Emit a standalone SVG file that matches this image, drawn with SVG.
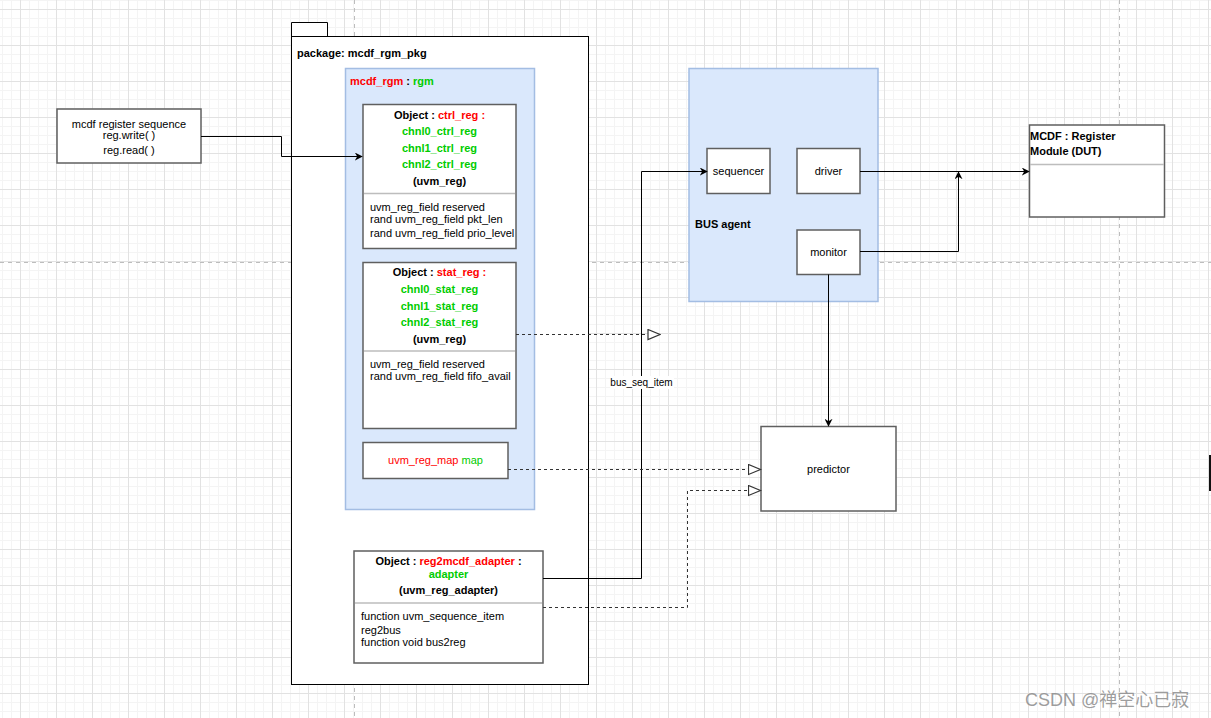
<svg xmlns="http://www.w3.org/2000/svg" width="1211" height="718" viewBox="0 0 1211 718">
<style>
text{font-family:"Liberation Sans",Arial,sans-serif;font-size:11px;fill:#000}
.b{font-weight:bold}
.c{text-anchor:middle}
.red{fill:#ff0000}
.grn{fill:#00cc00}
.box{fill:#fff;stroke:#5f5f5f;stroke-width:1.5}
.div{stroke:#bdbdbd;stroke-width:1.5}
.con{fill:none;stroke:#000;stroke-width:1}
.dash{fill:none;stroke:#333;stroke-width:1;stroke-dasharray:3 3}
.pg{stroke:#bdbdbd;stroke-width:1;stroke-dasharray:4 4}
</style>
<defs>
<pattern id="grid" x="20" y="9" width="36" height="36" patternUnits="userSpaceOnUse">
<path d="M9.5 0V36M18.5 0V36M27.5 0V36M0 9.5H36M0 18.5H36M0 27.5H36" stroke="#f4f4f4" stroke-width="1"/>
<path d="M0.5 0V36M0 0.5H36" stroke="#e2e2e2" stroke-width="1"/>
</pattern>
<marker id="arr" viewBox="0 0 10 10" refX="9" refY="5" markerWidth="8" markerHeight="8" markerUnits="userSpaceOnUse" orient="auto">
<path d="M0,0 L10,5 L0,10 L3,5 Z" fill="#000"/>
</marker>
<marker id="tri" viewBox="0 0 14 12" refX="13" refY="6" markerWidth="14" markerHeight="12" markerUnits="userSpaceOnUse" orient="auto">
<path d="M1,1 L13,6 L1,11 Z" fill="#fff" stroke="#333" stroke-width="1.2"/>
</marker>
</defs>
<rect width="1211" height="718" fill="#fff"/>
<rect width="1211" height="718" fill="url(#grid)"/>
<g id="page-breaks">
<line class="pg" x1="0" y1="262.5" x2="1211" y2="262.5"/>
<line class="pg" x1="354.5" y1="0" x2="354.5" y2="718"/>
<line class="pg" x1="1119.5" y1="0" x2="1119.5" y2="718"/>
</g>

<g id="seq">
<rect class="box" x="57" y="109" width="144" height="54"/>
<text class="c" x="129" y="128">mcdf register sequence</text>
<text class="c" x="129" y="139">reg.write( )</text>
<text class="c" x="129" y="154">reg.read( )</text>
</g>

<g id="package">
<path d="M291.5 36.5V22.5H327.5V36.5" fill="#fff" stroke="#000" stroke-width="1"/>
<rect x="291.5" y="36.5" width="297" height="648" fill="#fff" stroke="#000" stroke-width="1"/>
<text class="b" x="297" y="57">package: mcdf_rgm_pkg</text>
</g>

<g id="rgm">
<rect x="345.5" y="68.5" width="189" height="441" fill="#dae8fc" stroke="#a3bde3" stroke-width="1.5"/>
<text class="b" x="350" y="85"><tspan class="red">mcdf_rgm</tspan> : <tspan class="grn">rgm</tspan></text>
</g>

<g id="ctrl_reg">
<rect class="box" x="363" y="104.5" width="153" height="144"/>
<text class="b c" x="439.5" y="119">Object : <tspan class="red">ctrl_reg :</tspan></text>
<text class="b c grn" x="439.5" y="135">chnl0_ctrl_reg</text>
<text class="b c grn" x="439.5" y="152">chnl1_ctrl_reg</text>
<text class="b c grn" x="439.5" y="167.5">chnl2_ctrl_reg</text>
<text class="b c" x="439.5" y="185">(uvm_reg)</text>
<line class="div" x1="364" y1="193.5" x2="515" y2="193.5"/>
<text x="370" y="211">uvm_reg_field reserved</text>
<text x="370" y="222.5">rand uvm_reg_field pkt_len</text>
<text x="370" y="236.5">rand uvm_reg_field prio_level</text>
</g>

<g id="stat_reg">
<rect class="box" x="363" y="262.5" width="153" height="166"/>
<text class="b c" x="439.5" y="276">Object : <tspan class="red">stat_reg :</tspan></text>
<text class="b c grn" x="439.5" y="292.5">chnl0_stat_reg</text>
<text class="b c grn" x="439.5" y="310">chnl1_stat_reg</text>
<text class="b c grn" x="439.5" y="326">chnl2_stat_reg</text>
<text class="b c" x="439.5" y="342.5">(uvm_reg)</text>
<line class="div" x1="364" y1="351" x2="515" y2="351"/>
<text x="370" y="367.5">uvm_reg_field reserved</text>
<text x="370" y="380">rand uvm_reg_field fifo_avail</text>
</g>

<g id="map">
<rect class="box" x="363" y="442.5" width="145" height="36"/>
<text class="c" x="435.5" y="464"><tspan class="red">uvm_reg_map</tspan> <tspan class="grn">map</tspan></text>
</g>

<g id="adapter">
<rect class="box" x="354" y="551" width="189" height="112"/>
<text class="b c" x="448.5" y="565">Object : <tspan class="red">reg2mcdf_adapter</tspan>  :</text>
<text class="b c grn" x="448.5" y="577.5">adapter</text>
<text class="b c" x="448.5" y="594">(uvm_reg_adapter)</text>
<line class="div" x1="355" y1="603" x2="542" y2="603"/>
<text x="361" y="620">function uvm_sequence_item</text>
<text x="361" y="634">reg2bus</text>
<text x="361" y="646">function void bus2reg</text>
</g>

<g id="bus_agent">
<rect x="689" y="68.5" width="189" height="233" fill="#dae8fc" stroke="#a3bde3" stroke-width="1.5"/>
<text class="b" x="695" y="228">BUS agent</text>
</g>
<g id="sequencer">
<rect class="box" x="707" y="148.5" width="63" height="45"/>
<text class="c" x="738.5" y="175">sequencer</text>
</g>
<g id="driver">
<rect class="box" x="797" y="148.5" width="63" height="45"/>
<text class="c" x="828.5" y="175">driver</text>
</g>
<g id="monitor">
<rect class="box" x="797" y="230" width="63" height="44.5"/>
<text class="c" x="828.5" y="256">monitor</text>
</g>

<g id="dut">
<rect class="box" x="1029.5" y="125" width="135" height="92"/>
<text class="b" x="1030" y="140">MCDF : Register</text>
<text class="b" x="1030" y="155">Module (DUT)</text>
<line class="div" x1="1030" y1="164.5" x2="1164" y2="164.5"/>
</g>

<g id="predictor">
<rect class="box" x="761" y="426.5" width="135" height="84.5"/>
<text class="c" x="828.5" y="472.5">predictor</text>
</g>

<g id="connectors">
<path class="con" d="M201 136.5H281.5V156.5H362" marker-end="url(#arr)"/>
<path class="con" d="M860 171.5H1029" marker-end="url(#arr)"/>
<path class="con" d="M860 251.5H958.5V172" marker-end="url(#arr)"/>
<path class="con" d="M828.5 274.5V426" marker-end="url(#arr)"/>
<path class="con" d="M543 578.5H641.5V171.5H707" marker-end="url(#arr)"/>
<rect x="610" y="376" width="64" height="13" fill="#fff"/>
<text class="c" x="641.5" y="386" style="font-size:10px">bus_seq_item</text>
<path class="dash" d="M516 334.5H660" marker-end="url(#tri)"/>
<path class="dash" d="M508 469.5H760.5" marker-end="url(#tri)"/>
<path class="dash" d="M543 607.5H687.5V490.5H760.5" marker-end="url(#tri)"/>
</g>

<rect x="1209" y="455" width="2" height="36" fill="#111"/>
<text x="1025" y="706" style="font-family:'Liberation Sans','Noto Sans CJK SC',sans-serif;font-size:18px;fill:#8c8c8c;fill-opacity:0.85">CSDN @禅空心已寂</text>
</svg>
